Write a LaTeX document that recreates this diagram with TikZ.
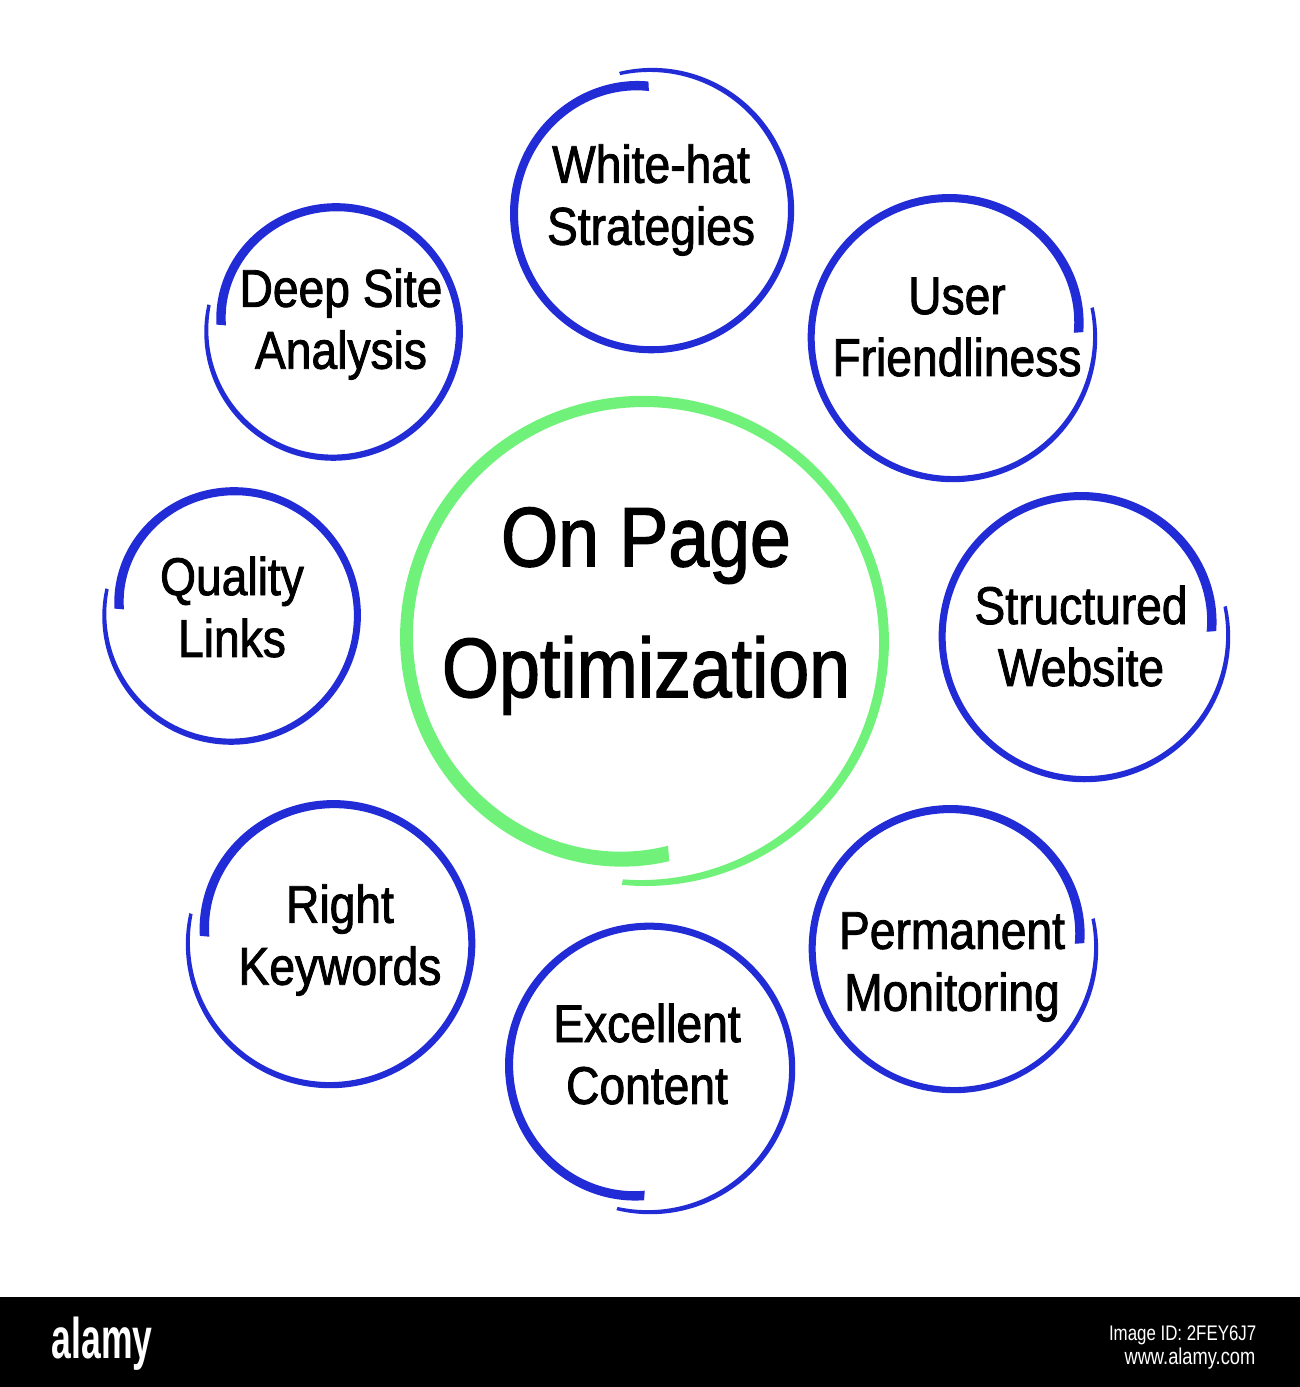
\documentclass[tikz,border=0pt]{standalone}
\usepackage{fontspec}
\setmainfont{Liberation Sans}[FakeStretch=0.87, FakeBold=1.6]
\newfontfamily\markfont{Liberation Sans}[FakeStretch=0.8]
\newfontfamily\logofont{Liberation Sans}[FakeStretch=0.62]
\usepackage{tikz}
\definecolor{ringblue}{RGB}{34,44,214}
\definecolor{ringgreen}{RGB}{112,242,122}
% #1,#2 centre, #3 radius, #4 start angle, #5 sweep, #6 stroke, #7 colour
\newcommand{\brushring}[7]{%
  \fill[#7] plot[domain=0:1,samples=160,smooth]
    ({#1+(#3*(1.03-0.12*\x*\x*\x*\x*\x*\x)+#6*(0.9-0.4*(1-\x)^8+0.5*\x*\x))*cos(#4+(#5)*\x)},
     {#2+(#3*(1.03-0.12*\x*\x*\x*\x*\x*\x)+#6*(0.9-0.4*(1-\x)^8+0.5*\x*\x))*sin(#4+(#5)*\x)})
  -- plot[domain=1:0,samples=160,smooth]
    ({#1+(#3*(1.03-0.12*\x*\x*\x*\x*\x*\x)-#6*(0.9-0.4*(1-\x)^8+0.5*\x*\x))*cos(#4+(#5)*\x)},
     {#2+(#3*(1.03-0.12*\x*\x*\x*\x*\x*\x)-#6*(0.9-0.4*(1-\x)^8+0.5*\x*\x))*sin(#4+(#5)*\x)})
  -- cycle;}

\begin{document}
\begin{tikzpicture}[x=0.01cm, y=-0.01cm]
\tikzstyle{topic}=[align=center, inner sep=0pt, font=\fontsize{15.1pt}{17.6pt}\selectfont]
\tikzstyle{hub}=[align=center, inner sep=0pt, font=\fontsize{24pt}{37.2pt}\selectfont]
\tikzstyle{bannertext}=[text=white, inner sep=0pt]

  \useasboundingbox (0,0) rectangle (1300,1387);
  \fill[white] (0,0) rectangle (1300,1297);

  % the rings
  \brushring{643}{642}{234}{95}{-372}{5.5}{ringgreen}
  \brushring{651}{210}{136}{257}{372}{3.4}{ringblue}
  \brushring{953}{337}{138}{348}{370}{3.4}{ringblue}
  \brushring{333}{331}{123}{192}{-369}{3.4}{ringblue}
  \brushring{231}{615}{123}{192}{-369}{3.4}{ringblue}
  \brushring{1085}{636}{139}{348}{370}{3.4}{ringblue}
  \brushring{330}{943}{138}{192}{-369}{3.4}{ringblue}
  \brushring{649}{1069}{139}{103}{-371}{3.4}{ringblue}
  \brushring{954}{948}{138}{348}{370}{3.4}{ringblue}

  \node[hub]   (onpage)    at (646,611)  {On Page\\Optimization};

  \node[topic] (whitehat)  at (651,200)  {White-hat\\Strategies};
  \node[topic] (userfr)    at (957,327)  {User\\Friendliness};
  \node[topic] (deepsite)  at (341,324)  {Deep Site\\Analysis};
  \node[topic] (quality)   at (232,607)  {Quality\\Links};
  \node[topic] (structure) at (1081,636) {Structured\\Website};
  \node[topic] (keywords)  at (340,940)  {Right\\Keywords};
  \node[topic] (content)   at (647,1054) {Excellent\\Content};
  \node[topic] (monitor)   at (952,967)  {Permanent\\Monitoring};

  % stock banner
  \fill[black] (0,1297) rectangle (1300,1387);
  \node[bannertext, font=\logofont\bfseries\fontsize{16.3pt}{18pt}\selectfont] (logo) at (102,1344) {alamy};
  \node[bannertext, font=\markfont\fontsize{6pt}{7pt}\selectfont, anchor=base east] (imageid) at (1257,1340) {Image ID: 2FEY6J7};
  \node[bannertext, font=\markfont\fontsize{6.5pt}{7pt}\selectfont, anchor=base east] (website) at (1256,1364) {www.alamy.com};

\end{tikzpicture}
\end{document}
